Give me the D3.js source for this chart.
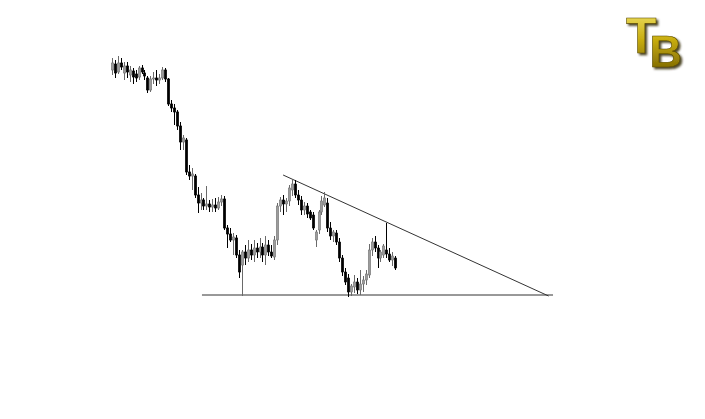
<!DOCTYPE html>
<html>
<head>
<meta charset="utf-8">
<script src="https://cdn.jsdelivr.net/npm/d3@7"></script>
<style>
html,body{margin:0;padding:0;background:#fff;}
svg{display:block;}
</style>
</head>
<body>
<svg id="chart" width="705" height="419"></svg>
<script>
// OHLC data (arbitrary price units), one bar per period
const openP = [1430,1436,1428,1437,1427,1434,1425,1429,1426,1423,1432,1427,1422,1410,1421,1422,1420,1422,1430,1421,1396,1392,1388,1374,1358,1360,1328,1324,1324,1305,1297,1300,1294,1296,1293,1295,1292,1298,1301,1272,1266,1260,1262,1245,1235,1248,1242,1250,1245,1252,1248,1253,1245,1255,1248,1243,1260,1294,1300,1296,1299,1310,1316,1305,1300,1290,1294,1288,1285,1260,1270,1288,1295,1297,1272,1264,1267,1258,1242,1228,1222,1208,1213,1218,1210,1216,1220,1225,1250,1258,1252,1242,1245,1250,1246,1240,1242];
const highP = [1442,1440,1444,1442,1438,1438,1434,1432,1430,1434,1435,1430,1424,1424,1428,1430,1426,1433,1432,1422,1400,1396,1390,1378,1365,1362,1335,1332,1326,1313,1307,1302,1314,1300,1301,1302,1303,1305,1304,1275,1272,1267,1265,1250,1250,1255,1260,1256,1260,1257,1262,1257,1264,1260,1255,1264,1297,1303,1305,1302,1315,1320,1320,1310,1304,1298,1297,1290,1288,1270,1290,1304,1308,1302,1278,1270,1270,1262,1245,1232,1226,1216,1225,1222,1230,1224,1230,1256,1262,1264,1255,1250,1256,1277,1252,1248,1244];
const lowP = [1425,1422,1426,1430,1420,1422,1418,1416,1418,1420,1426,1420,1407,1408,1416,1414,1416,1420,1418,1394,1388,1375,1370,1350,1350,1325,1320,1310,1302,1287,1290,1290,1290,1288,1288,1288,1290,1294,1270,1252,1258,1245,1242,1222,1204,1235,1238,1240,1238,1242,1242,1238,1235,1244,1242,1240,1255,1288,1285,1288,1294,1304,1302,1295,1285,1285,1282,1280,1270,1253,1266,1285,1293,1268,1260,1258,1255,1238,1224,1215,1203,1204,1207,1206,1205,1208,1215,1222,1244,1248,1232,1238,1242,1242,1238,1234,1230];
const closeP = [1437,1427,1437,1433,1434,1428,1430,1423,1422,1432,1428,1424,1410,1421,1422,1420,1422,1430,1421,1396,1392,1388,1374,1358,1362,1328,1324,1326,1305,1297,1300,1294,1296,1293,1295,1292,1298,1301,1272,1266,1260,1263,1245,1228,1248,1242,1250,1245,1252,1248,1253,1245,1255,1248,1244,1260,1294,1300,1296,1299,1312,1316,1305,1300,1290,1294,1286,1282,1272,1268,1288,1299,1302,1272,1264,1268,1258,1242,1228,1218,1208,1214,1218,1210,1216,1220,1226,1250,1258,1252,1242,1248,1254,1246,1240,1244,1232];

// Descending triangle: [bar index, price]
const resistanceLine = [[58, 1325], [148, 1204]];
const supportLine = [[30.5, 1205], [149.5, 1205]];

const logoText = ["T", "B"];

const svg = d3.select("#chart");
const x = d3.scaleLinear().domain([0, 150]).range([112, 112 + 150 * 2.95]);
const y = d3.scaleLinear().domain([1100, 1500]).range([400, 0]);

const bars = openP.map((o, i) => ({i, o, h: highP[i], l: lowP[i], c: closeP[i]}));

// trend lines
const line = d3.line().x(d => x(d[0])).y(d => y(d[1]));
svg.append("path").attr("d", line(supportLine))
  .attr("stroke", "#333").attr("stroke-width", 1).attr("fill", "none");
svg.append("path").attr("d", line(resistanceLine))
  .attr("stroke", "#333").attr("stroke-width", 1).attr("fill", "none");

const g = svg.append("g");
const up = d => d.c >= d.o;
g.selectAll("line.wick").data(bars).join("line")
  .attr("class", "wick")
  .attr("x1", d => Math.round(x(d.i)) + 0.5).attr("x2", d => Math.round(x(d.i)) + 0.5)
  .attr("y1", d => y(d.h)).attr("y2", d => y(d.l))
  .attr("stroke", d => up(d) ? "#6a6a6a" : "#000").attr("stroke-width", 1);
g.selectAll("rect.body").data(bars).join("rect")
  .attr("class", "body")
  .attr("x", d => Math.round(x(d.i)) - 0.7)
  .attr("width", 2.4)
  .attr("y", d => y(Math.max(d.o, d.c)))
  .attr("height", d => Math.max(1, Math.abs(y(d.o) - y(d.c))))
  .attr("fill", d => up(d) ? "#9c9c9c" : "#000")
  .attr("stroke", d => up(d) ? "#777" : "#000")
  .attr("stroke-width", 0.6);

// logo
const defs = svg.append("defs");
const grad = defs.append("linearGradient").attr("id", "gold")
  .attr("x1", 0).attr("y1", 0).attr("x2", 0).attr("y2", 1);
grad.append("stop").attr("offset", "0%").attr("stop-color", "#f2e46a");
grad.append("stop").attr("offset", "45%").attr("stop-color", "#c9ae10");
grad.append("stop").attr("offset", "100%").attr("stop-color", "#6e5a00");
const filt = defs.append("filter").attr("id", "shadow")
  .attr("x", "-20%").attr("y", "-20%").attr("width", "150%").attr("height", "150%");
filt.append("feDropShadow").attr("dx", 2).attr("dy", 2).attr("stdDeviation", 0.8)
  .attr("flood-color", "#2e2600").attr("flood-opacity", 0.85);

const logo = svg.append("text")
  .attr("font-family", "Liberation Sans, Arial, sans-serif").attr("font-weight", "bold")
  .attr("x", 626).attr("y", 53)
  .attr("fill", "url(#gold)").attr("stroke", "#5a4a00").attr("stroke-width", 0.6)
  .attr("filter", "url(#shadow)");
logo.append("tspan").attr("font-size", 50).text(logoText[0]);
logo.append("tspan").attr("font-size", 45).attr("dx", -7).attr("dy", 14).text(logoText[1]);
</script>
</body>
</html>
